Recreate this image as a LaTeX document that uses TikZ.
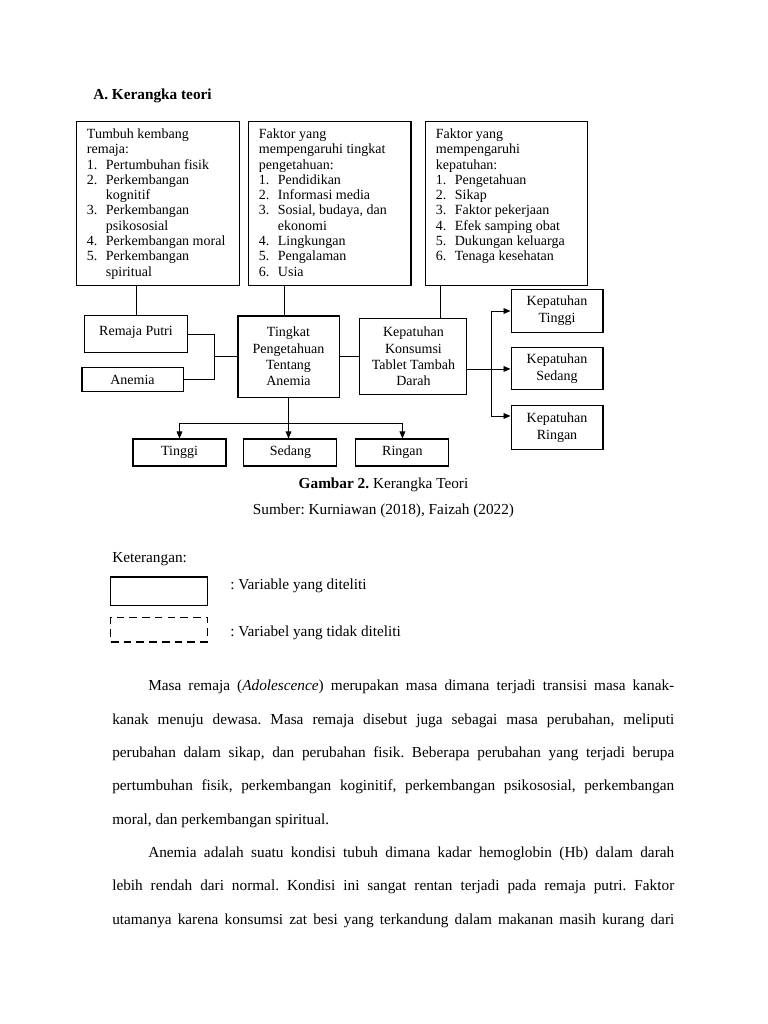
\documentclass[tikz,border=0pt]{standalone}
\usepackage{fontspec}
\setmainfont{Liberation Serif}
\usetikzlibrary{arrows.meta}
\frenchspacing

\newlength{\nrw}\setlength{\nrw}{14.9pt}
\newcommand{\nr}[1]{\makebox[\nrw][l]{#1}}
\newcommand{\bigbox}[1]{\parbox[c][118.8pt][t]{111.5pt}{\raggedright\strut #1}}
\newcommand{\fullline}[1]{\makebox[441.2pt][s]{#1}}
\newcommand{\indline}[1]{\makebox[412.9pt][s]{#1}}

\begin{document}
\begin{tikzpicture}[x=0.785pt, y=-0.785pt, >={Triangle[length=5.5pt, width=4.5pt]},
  box/.style={rectangle, draw, line width=0.8pt, inner sep=0pt, align=center, font=\fontsize{11}{12.8}\selectfont},
  big/.style={rectangle, draw, line width=0.8pt, inner xsep=7.85pt, inner ysep=4.6pt, font=\fontsize{11}{12}\selectfont},
  txt/.style={anchor=mid west, inner sep=0pt, font=\fontsize{12}{14}\selectfont},
  wire/.style={line width=0.7pt}]
  \useasboundingbox (0,0) rectangle (768,1024);
  \node[txt] (judul) at (93,97) {\textbf{A. Kerangka teori}};
  % kotak atas
  \node[big] (tumbuh) at (158,203.5) {\bigbox{Tumbuh kembang\\remaja:\\\nr{1.}Pertumbuhan fisik\\\nr{2.}Perkembangan\\\nr{}kognitif\\\nr{3.}Perkembangan\\\nr{}psikososial\\\nr{4.}Perkembangan moral\\\nr{5.}Perkembangan\\\nr{}spiritual}};
  \node[big, right of=tumbuh, node distance=135pt] (faktor) {\bigbox{Faktor yang\\mempengaruhi tingkat\\pengetahuan:\\\nr{1.}Pendidikan\\\nr{2.}Informasi media\\\nr{3.}Sosial, budaya, dan\\\nr{}ekonomi\\\nr{4.}Lingkungan\\\nr{5.}Pengalaman\\\nr{6.}Usia}};
  \node[big, right of=faktor, node distance=138.9pt] (patuh) {\bigbox{Faktor yang\\mempengaruhi\\kepatuhan:\\\nr{1.}Pengetahuan\\\nr{2.}Sikap\\\nr{3.}Faktor pekerjaan\\\nr{4.}Efek samping obat\\\nr{5.}Dukungan keluarga\\\nr{6.}Tenaga kesehatan}};
  % baris tengah
  \node[box, minimum width=80.1pt, minimum height=28.3pt, text height=7.6pt, text depth=4.8pt] (remaja) at (136,334) {Remaja Putri};
  \node[box, minimum width=79.3pt, minimum height=18.1pt] (anemia) at (132.5,379.5) {Anemia};
  \node[box, minimum width=79.3pt, minimum height=63.6pt] (tingkat) at (288.5,356.5) {Tingkat\\Pengetahuan\\Tentang\\Anemia};
  \node[box, minimum width=84pt, minimum height=60.4pt, right of=tingkat, node distance=98.1pt] (konsumsi) {Kepatuhan\\Konsumsi\\Tablet Tambah\\Darah};
  \node[box, minimum width=72.2pt, minimum height=34.5pt] (ptinggi) at (557,311) {Kepatuhan\\[0.5pt]Tinggi};
  \node[box, minimum width=72.2pt, minimum height=33pt, below of=ptinggi, node distance=45.5pt] (psedang) {Kepatuhan\\[0.5pt]Sedang};
  \node[box, minimum width=72.2pt, minimum height=34.5pt, below of=psedang, node distance=46.3pt] (pringan) {Kepatuhan\\[0.5pt]Ringan};
  % baris bawah
  \node[box, minimum width=73pt, minimum height=21.2pt] (tinggi) at (179.5,452.5) {Tinggi};
  \node[box, minimum width=73pt, minimum height=21.2pt, right of=tinggi, node distance=87.1pt] (sedang) {Sedang};
  \node[box, minimum width=73pt, minimum height=21.2pt, right of=sedang, node distance=87.9pt] (ringan) {Ringan};
  % garis
  \draw[wire] (tumbuh.south -| remaja.north) -- (remaja.north);
  \draw[wire] ([xshift=-3.5pt]tingkat.north) -- ([xshift=-3.5pt]tingkat.north |- faktor.south);
  \draw[wire] ([xshift=20.8pt]konsumsi.north) -- ([xshift=20.8pt]konsumsi.north |- patuh.south);
  \draw[wire] (remaja.east) -- ++(27,0) coordinate (brk) |- (anemia.east);
  \draw[wire] (brk |- tingkat.west) -- (tingkat.west);
  \draw[wire] (tingkat.east) -- (tingkat.east -| konsumsi.west);
  \coordinate (fork) at ([xshift=18.8pt]konsumsi.east);
  \coordinate (rg) at ([yshift=9.4pt]pringan.west);
  \draw[wire, ->] (psedang.west -| konsumsi.east) -- (psedang.west);
  \draw[wire, ->] (fork |- ptinggi.west) -- (ptinggi.west);
  \draw[wire, ->] (fork |- ptinggi.west) |- (rg);
  \draw[wire, ->] (tingkat.south) -- (tingkat.south |- sedang.north);
  \coordinate (split) at ([yshift=-20.4pt]tingkat.south);
  \draw[wire, ->] (split) -| (tinggi.north);
  \draw[wire, ->] (split) -| (ringan.north);
  % keterangan
  \node[txt, anchor=mid] (cap) at (383.5,486) {\textbf{Gambar 2.} Kerangka Teori};
  \node[txt, anchor=mid] (src) at (383.5,512) {Sumber: Kurniawan (2018), Faizah (2022)};
  \node[txt] (ket) at (112,560) {Keterangan:};
  \node[box, minimum width=75.4pt, minimum height=22pt] (legsolid) at (159,591) {};
  \node[box, dash pattern=on 6pt off 4pt, minimum width=75.4pt, minimum height=19.6pt] (legdash) at (159,629.5) {};
  \node[txt] (legsolidtxt) at (230,587) {: Variable yang diteliti};
  \node[txt] (legdashtxt) at (230,634) {: Variabel yang tidak diteliti};
  % paragraf
  \node[txt] (p1) at (148,688) {\indline{Masa remaja (\textit{Adolescence}) merupakan masa dimana terjadi transisi masa kanak-}};
  \node[txt] (p2) at (112,722) {\fullline{kanak menuju dewasa. Masa remaja disebut juga sebagai masa perubahan, meliputi}};
  \node[txt] (p3) at (112,755) {\fullline{perubahan dalam sikap, dan perubahan fisik. Beberapa perubahan yang terjadi berupa}};
  \node[txt] (p4) at (112,788) {\fullline{pertumbuhan fisik, perkembangan koginitif, perkembangan psikososial, perkembangan}};
  \node[txt] (p5) at (112,822) {moral, dan perkembangan spiritual.};
  \node[txt] (p6) at (148,855) {\indline{Anemia adalah suatu kondisi tubuh dimana kadar hemoglobin (Hb) dalam darah}};
  \node[txt] (p7) at (112,888) {\fullline{lebih rendah dari normal. Kondisi ini sangat rentan terjadi pada remaja putri. Faktor}};
  \node[txt] (p8) at (112,922) {\fullline{utamanya karena konsumsi zat besi yang terkandung dalam makanan masih kurang dari}};
\end{tikzpicture}
\end{document}
